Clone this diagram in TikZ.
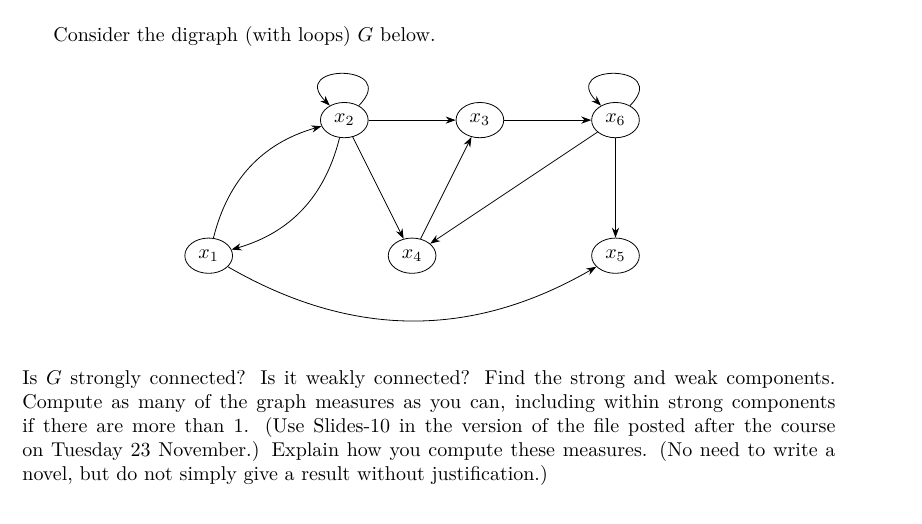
\documentclass[tikz,border=0pt]{standalone}
\usetikzlibrary{shapes.geometric,arrows.meta}
\begin{document}
\begin{tikzpicture}[
  x=33.9pt,y=33.9pt,
  vertex/.style={ellipse,draw},
  arc/.style={draw,-{Stealth[length=5pt,width=3.6pt]}},
  selfloop/.style={arc,loop,out=45,in=135,looseness=5.3,min distance=0pt},
  txt/.style={inner sep=0pt,font=\normalsize}
]
\useasboundingbox (-104.35pt,-134.15pt) rectangle (356.65pt,127.85pt);
\node[vertex] (x1) at (0,0) {$x_1$};
\node[vertex] (x2) at (2,2) {$x_2$};
\node[vertex] (x3) at (4,2) {$x_3$};
\node[vertex] (x6) at (6,2) {$x_6$};
\node[vertex] (x4) at (3,0) {$x_4$};
\node[vertex] (x5) at (6,0) {$x_5$};

\path (x2) edge[selfloop] (x2);
\path (x6) edge[selfloop] (x6);
\path[arc] (x1) to[bend left=30] (x2);
\path[arc] (x2) to[bend left=30] (x1);
\path[arc] (x2) -- (x3);
\path[arc] (x3) -- (x6);
\path[arc] (x2) -- (x4);
\path[arc] (x4) -- (x3);
\path[arc] (x6) -- (x4);
\path[arc] (x6) -- (x5);
\path[arc] (x1) to[bend right=30] (x5);

\node[txt,anchor=base west] (title) at (-77.85pt,106.85pt)
  {Consider the digraph (with loops) $G$ below.};
\node[txt,anchor=north west,text width=406.5pt,align=justify] (question) at (-93.35pt,-57.2pt)
  {Is $G$ strongly connected? Is it weakly connected? Find the strong and weak components.\linebreak
  Compute as many of the graph measures as you can, including within strong components\linebreak
  if there are more than 1. (Use Slides-10 in the version of the file posted after the course\linebreak
  on Tuesday 23 November.) Explain how you compute these measures. (No need to write a\linebreak
  novel, but do not simply give a result without justification.)};
\end{tikzpicture}
\end{document}
